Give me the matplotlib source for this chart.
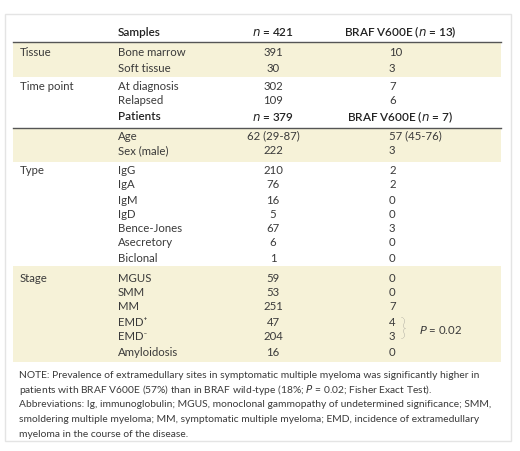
import matplotlib.pyplot as plt
from matplotlib.patches import Rectangle

plt.rcParams['font.family'] = ['Lato', 'DejaVu Sans']

# table data
sample_groups = ['Tissue', '', 'Time point', '']
sample_items = ['Bone marrow', 'Soft tissue', 'At diagnosis', 'Relapsed']
sample_n = ['391', '30', '302', '109']
sample_braf = ['10', '3', '7', '6']

patient_groups = ['', '', 'Type', '', '', '', '', '', '', 'Stage', '', '', '', '', '']
patient_items = ['Age', 'Sex (male)', 'IgG', 'IgA', 'IgM', 'IgD', 'Bence-Jones', 'Asecretory',
                 'Biclonal', 'MGUS', 'SMM', 'MM', 'EMD⁺', 'EMD⁻', 'Amyloidosis']
patient_n = ['62 (29-87)', '222', '210', '76', '16', '5', '67', '6', '1',
             '59', '53', '251', '47', '204', '16']
patient_braf = ['57 (45-76)', '3', '2', '2', '0', '0', '3', '0', '0',
                '0', '0', '7', '4', '3', '0']

note_lines = [
    'NOTE: Prevalence of extramedullary sites in symptomatic multiple myeloma was significantly higher in',
    'patients with BRAF V600E (57%) than in BRAF wild-type (18%; $P$ = 0.02; Fisher Exact Test).',
    'Abbreviations: Ig, immunoglobulin; MGUS, monoclonal gammopathy of undetermined significance; SMM,',
    'smoldering multiple myeloma; MM, symptomatic multiple myeloma; EMD, incidence of extramedullary',
    'myeloma in the course of the disease.',
]

fig = plt.figure(figsize=(5.2, 4.51), dpi=100)
ax = fig.add_axes([0, 0, 1, 1])
ax.set_xlim(0, 520)
ax.set_ylim(451, 0)
ax.axis('off')

shade = '#f6f2d8'
txt = '#3a3a3a'
fs = 8.2

# card
ax.add_patch(Rectangle((5, 14), 506, 427, facecolor='white', edgecolor='#e4e4e4', lw=1))

x_grp, x_item, x_n, x_b = 20, 118, 273, 389

# shaded bands
for y0, y1 in [(43, 77), (128, 162), (266, 362)]:
    ax.add_patch(Rectangle((13, y0), 488, y1 - y0, facecolor=shade, edgecolor='none'))

def header(y, title, ntxt, btxt):
    ax.text(x_item, y, title, fontsize=fs + 0.3, fontweight='semibold', color='#222', va='center')
    ax.text(x_n, y, ntxt, fontsize=fs + 0.3, fontweight='semibold', color='#222', va='center', ha='center')
    ax.text(400, y, btxt, fontsize=fs + 0.3, fontweight='semibold', color='#222', va='center', ha='center')

header(32, 'Samples', '$n$ = 421', 'BRAF V600E ($n$ = 13)')
ax.plot([13, 501], [42, 42], color='#555', lw=1)
header(117, 'Patients', '$n$ = 379', 'BRAF V600E ($n$ = 7)')
ax.plot([13, 501], [127.5, 127.5], color='#555', lw=1)

sample_y = [53, 68, 86, 101]
for y, g, it, n, b in zip(sample_y, sample_groups, sample_items, sample_n, sample_braf):
    ax.text(x_grp, y, g, fontsize=fs, color=txt, va='center')
    ax.text(x_item, y, it, fontsize=fs, color=txt, va='center')
    ax.text(x_n, y, n, fontsize=fs, color=txt, va='center', ha='center')
    ax.text(x_b, y, b, fontsize=fs, color=txt, va='center')

patient_y = [136, 151, 170, 185, 200, 214, 229, 243, 258, 278, 293, 307, 322, 337, 352]
for y, g, it, n, b in zip(patient_y, patient_groups, patient_items, patient_n, patient_braf):
    ax.text(x_grp, y, g, fontsize=fs, color=txt, va='center')
    ax.text(x_item, y, it, fontsize=fs, color=txt, va='center')
    ax.text(x_n, y, n, fontsize=fs, color=txt, va='center', ha='center')
    ax.text(x_b, y, b, fontsize=fs, color=txt, va='center')

# brace for EMD rows
ax.text(403, 330, '}', fontsize=17, color='#777', va='center', ha='center', fontweight='light')
ax.text(419, 330, '$P$ = 0.02', fontsize=fs, color=txt, va='center')

for i, line in enumerate(note_lines):
    ax.text(19, 375 + i * 14.8, line, fontsize=7.4, color=txt, va='center')

fig.savefig('out.png', dpi=100)
